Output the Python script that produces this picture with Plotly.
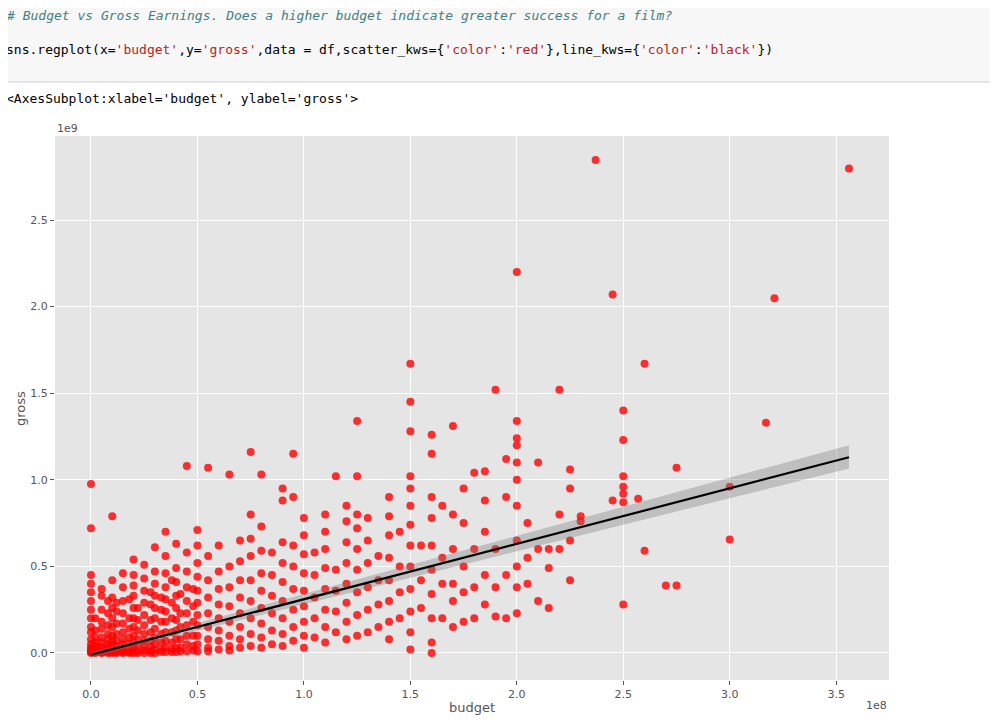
import plotly.graph_objects as go

# budget column (millions of $) -> gross values (millions of $)
budget_cols = [0, 2, 5, 8, 10, 12, 15, 18, 20, 22, 25, 28, 30, 33, 35, 38, 40, 42, 45, 48, 50, 55, 60, 65, 70, 75,
               80, 85, 90, 95, 100, 105, 110, 115, 120, 125, 130, 135, 140, 145, 150, 155, 160, 165, 170, 175, 180,
               185, 190, 195, 200, 205, 210, 215, 220, 225, 230, 237, 245, 250, 257, 260, 270, 275, 300, 317, 321, 356]
gross_cols = [
    [0, 5, 10, 20, 30, 50, 80, 120, 150, 200, 250, 300, 350, 400, 450, 720, 975],
    [0, 5, 10, 25, 40, 60, 90, 130, 200],
    [0, 4, 8, 20, 35, 60, 90, 140, 180, 250, 330, 370],
    [0, 6, 15, 30, 50, 80, 110, 160, 230, 300],
    [0, 5, 10, 25, 45, 70, 100, 150, 200, 260, 320, 420, 790],
    [0, 5, 20, 40, 70, 110, 170, 240, 290],
    [0, 6, 12, 30, 50, 80, 120, 170, 230, 300, 380, 460],
    [0, 5, 25, 55, 90, 140, 200, 310],
    [0, 10, 30, 60, 100, 150, 200, 260, 330, 390, 450, 540],
    [0, 10, 40, 80, 130, 190, 260],
    [0, 15, 40, 70, 110, 160, 220, 290, 360, 430, 510],
    [0, 10, 35, 70, 120, 190, 280, 350],
    [0, 20, 50, 90, 140, 200, 260, 330, 400, 470, 610],
    [5, 20, 60, 110, 180, 250, 320],
    [5, 30, 70, 120, 180, 240, 310, 380, 460, 560, 700],
    [5, 20, 60, 120, 200, 290, 420],
    [5, 30, 80, 130, 190, 260, 330, 410, 490, 630],
    [10, 30, 80, 150, 230, 340],
    [10, 50, 100, 160, 230, 300, 380, 470, 580, 1080],
    [15, 40, 100, 180, 270, 370],
    [10, 50, 100, 160, 220, 290, 360, 440, 520, 620, 710],
    [10, 30, 80, 150, 230, 320, 420, 560, 1070],
    [20, 70, 130, 200, 280, 370, 470, 620],
    [15, 40, 100, 180, 270, 380, 500, 1030],
    [30, 80, 150, 230, 320, 420, 530, 650],
    [40, 110, 200, 300, 420, 560, 660, 800, 1160],
    [30, 90, 170, 260, 360, 460, 590, 730, 1030],
    [50, 130, 230, 330, 450, 580],
    [40, 110, 200, 300, 410, 520, 640, 880, 950],
    [70, 150, 250, 370, 500, 620, 900, 1150],
    [30, 100, 180, 270, 360, 460, 570, 680, 780],
    [90, 200, 320, 450, 580],
    [60, 150, 250, 370, 490, 600, 700, 800],
    [120, 240, 360, 480, 1020],
    [80, 180, 290, 400, 520, 640, 760, 850],
    [100, 220, 350, 480, 600, 720, 800, 1020, 1340],
    [120, 250, 380, 520, 650, 780],
    [150, 280, 420, 560],
    [80, 180, 300, 420, 550, 680, 790, 900],
    [200, 350, 500, 700],
    [20, 120, 240, 370, 500, 620, 740, 850, 950, 1020, 1280, 1450, 1670],
    [260, 420, 620],
    [0, 60, 200, 340, 480, 620, 780, 900, 1150, 1260],
    [200, 400, 550, 850],
    [150, 300, 400, 600, 800, 1310],
    [180, 350, 500, 750, 950],
    [200, 380, 600, 1040],
    [280, 450, 700, 880, 1050],
    [210, 380, 600, 1520],
    [200, 450, 900, 1120],
    [230, 380, 500, 650, 850, 1000, 1100, 1200, 1240, 1340, 2200],
    [400, 550, 750],
    [300, 600, 1100],
    [260, 490, 600],
    [600, 800, 1520],
    [420, 650, 950, 1060],
    [760, 790],
    [2847],
    [880, 2070],
    [280, 870, 920, 960, 1020, 1230, 1400],
    [890],
    [590, 1670],
    [390],
    [390, 1070],
    [655, 960],
    [1330],
    [2048],
    [2797],
]

# regression line and confidence band
reg_x = [0, 356e6]
reg_y = [-10e6, 1130e6]
band_lo = [-25e6, 1065e6]
band_hi = [5e6, 1200e6]

xticks = [0, 0.5e8, 1e8, 1.5e8, 2e8, 2.5e8, 3e8, 3.5e8]
xtick_text = ['0.0', '0.5', '1.0', '1.5', '2.0', '2.5', '3.0', '3.5']
yticks = [0, 0.5e9, 1e9, 1.5e9, 2e9, 2.5e9]
ytick_text = ['0.0', '0.5', '1.0', '1.5', '2.0', '2.5']

budget = []
gross = []
for b, col in zip(budget_cols, gross_cols):
    for g in col:
        budget.append(b * 1e6)
        gross.append(g * 1e6)

W, H = 998, 723
OX, OY = 8, 7  # page offset of the rendered figure
L, R, T, B = 55 - OX, 109 + OX, 135 - OY, 44 + OY


def px(x):
    return (x - OX - L) / (W - L - R)


def py(y):
    return (H - B - (y - OY)) / (H - T - B)


fig = go.Figure()
fig.add_trace(go.Scatter(x=budget, y=gross, mode='markers',
                         marker=dict(color='rgba(255,0,0,0.8)', size=8, line=dict(width=0))))
fig.add_trace(go.Scatter(x=reg_x, y=band_lo, mode='lines', line=dict(width=0), hoverinfo='skip'))
fig.add_trace(go.Scatter(x=reg_x, y=band_hi, mode='lines', line=dict(width=0), fill='tonexty',
                         fillcolor='rgba(120,120,120,0.35)', hoverinfo='skip'))
fig.add_trace(go.Scatter(x=reg_x, y=reg_y, mode='lines', line=dict(color='black', width=2.2)))

fig.update_layout(
    width=W, height=H, showlegend=False,
    margin=dict(l=L, r=R, t=T, b=B),
    paper_bgcolor='white', plot_bgcolor='#e5e5e5',
    font=dict(family='DejaVu Sans', size=11, color='#555555'),
    xaxis=dict(range=[-0.169e8, 3.748e8], tickvals=xticks, ticktext=xtick_text, gridcolor='white',
               zeroline=False, ticks='outside', ticklen=4, tickcolor='#555555', showline=False),
    yaxis=dict(range=[-0.156e9, 2.985e9], tickvals=yticks, ticktext=ytick_text, gridcolor='white',
               zeroline=False, ticks='outside', ticklen=4, tickcolor='#555555', showline=False),
)

# notebook code cell
fig.add_shape(type='rect', xref='paper', yref='paper', x0=px(0), x1=px(995), y0=py(81), y1=py(1),
              fillcolor='#f7f7f7', line=dict(color='#cfcfcf', width=1), layer='below')
mono = 'DejaVu Sans Mono'
fig.add_annotation(xref='paper', yref='paper', x=px(4), y=py(15), xanchor='left', yanchor='middle', showarrow=False,
                   text='<i>#&nbsp;Budget&nbsp;vs&nbsp;Gross&nbsp;Earnings.&nbsp;Does&nbsp;a&nbsp;higher&nbsp;budget&nbsp;indicate&nbsp;greater&nbsp;success&nbsp;for&nbsp;a&nbsp;film?</i>',
                   font=dict(family=mono, size=13, color='#408080'))
s = lambda t: "<span style='color:#ba2121'>'" + t + "'</span>"
code = ('sns.regplot(x=' + s('budget') + ',y=' + s('gross') + ',data&nbsp;=&nbsp;df,scatter_kws={' + s('color') + ':'
        + s('red') + '},line_kws={' + s('color') + ':' + s('black') + '})')
fig.add_annotation(xref='paper', yref='paper', x=px(4), y=py(49), xanchor='left', yanchor='middle', showarrow=False,
                   text=code, font=dict(family=mono, size=13, color='#000000'))
fig.add_annotation(xref='paper', yref='paper', x=px(4), y=py(97), xanchor='left', yanchor='middle', showarrow=False,
                   text="&lt;AxesSubplot:xlabel='budget',&nbsp;ylabel='gross'&gt;",
                   font=dict(family=mono, size=13, color='#000000'))

# offset labels and axis titles
fig.add_annotation(xref='paper', yref='paper', x=px(55), y=py(128), xanchor='left', yanchor='middle', showarrow=False,
                   text='1e9', font=dict(size=11, color='#555555'))
fig.add_annotation(xref='paper', yref='paper', x=px(889), y=py(704), xanchor='right', yanchor='middle', showarrow=False,
                   text='1e8', font=dict(size=11, color='#555555'))
fig.add_annotation(xref='paper', yref='paper', x=px(472), y=py(706), xanchor='center', yanchor='middle', showarrow=False,
                   text='budget', font=dict(size=13, color='#555555'))
fig.add_annotation(xref='paper', yref='paper', x=px(20), y=py(408), xanchor='center', yanchor='middle', showarrow=False,
                   text='gross', textangle=-90, font=dict(size=13, color='#555555'))

fig.write_html("out.html")
